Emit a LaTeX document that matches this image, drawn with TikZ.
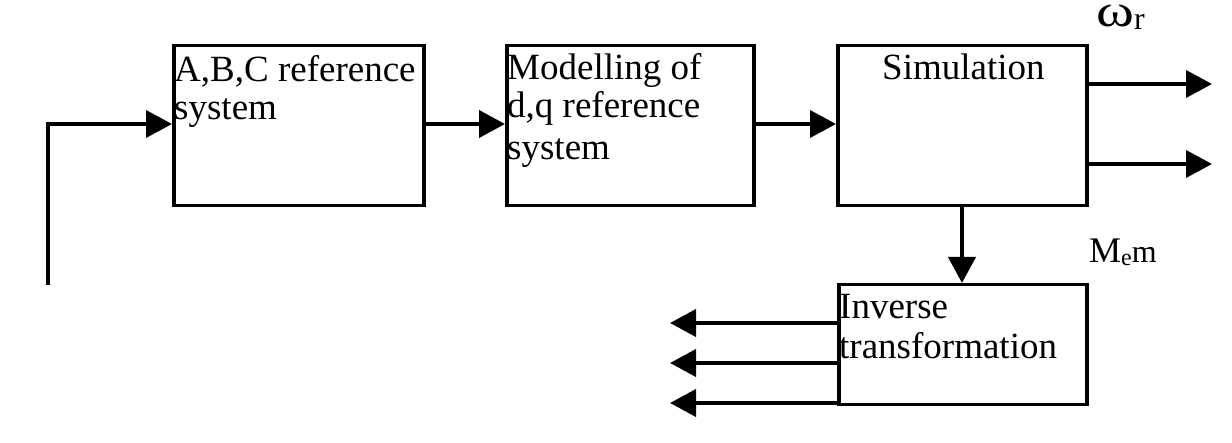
\documentclass[tikz,border=0pt]{standalone}
\usepackage{fontspec}
\setmainfont{Liberation Serif}
\usetikzlibrary{arrows.meta}
\begin{document}
\begin{tikzpicture}[x=1pt,y=-1pt,
  blk/.style={draw,line width=3.5pt,minimum width=#1,inner sep=0pt,anchor=north west},
  lbl/.style={font=\fontsize{37}{38.5}\selectfont,inner sep=0pt,anchor=north west,align=left},
  conn/.style={line width=4pt,-{Triangle[length=26pt,width=27pt]}},
  plain/.style={line width=4pt}]
\useasboundingbox (0,0) rectangle (1232,443);
% boxes
\node[blk=250pt,minimum height=160pt] (b1) at (172,44) {};
\node[blk=247pt,minimum height=160pt] (b2) at (505,44) {};
\node[blk=249pt,minimum height=160pt] (b3) at (836,44) {};
\node[blk=248pt,minimum height=120pt] (b4) at (837,283) {};
% texts
\node[lbl] (t1) at (174,55) {A,B,C reference\\system};
\node[lbl] (t2) at (507,53) {Modelling of\\d,q reference\\[3pt]system};
\node[lbl] (t3) at (882,54) {Simulation};
\node[lbl] (t4) at (839,294) {Inverse\\[2pt]transformation};
\node[inner sep=0pt,anchor=base west,font=\fontsize{46}{46}\selectfont] (w) at (1096,27) {\scalebox{1.25}[1]{ω}\raisebox{-3pt}{\fontsize{32}{32}\selectfont r}};
\node[inner sep=0pt,anchor=base west,font=\fontsize{36}{36}\selectfont] (m) at (1089,263) {M\raisebox{-3pt}{\fontsize{24}{24}\selectfont e}\fontsize{32}{32}\selectfont m};
% input
\coordinate (in0) at (48,285);
\coordinate (in1) at (48,124);
\draw[plain] (in0) -- (in1);
\draw[conn] ([xshift=-2pt]in1) -- (b1.west |- in1);
\draw[conn] (b1.east |- 0,124) -- (b2.west |- 0,124);
\draw[conn] (b2.east |- 0,124) -- (b3.west |- 0,124);
% outputs
\coordinate (o1) at (1212,84);
\coordinate (o2) at (1212,164);
\draw[conn] (b3.east |- o1) -- (o1);
\draw[conn] (b3.east |- o2) -- (o2);
\draw[conn] (b3.south -| 962,0) -- (b4.north -| 962,0);
\coordinate (l1) at (670,323);
\coordinate (l2) at (670,363);
\coordinate (l3) at (670,403);
\draw[conn] (b4.west |- l1) -- (l1);
\draw[conn] (b4.west |- l2) -- (l2);
\draw[conn] (b4.west |- l3) -- (l3);
\end{tikzpicture}
\end{document}
